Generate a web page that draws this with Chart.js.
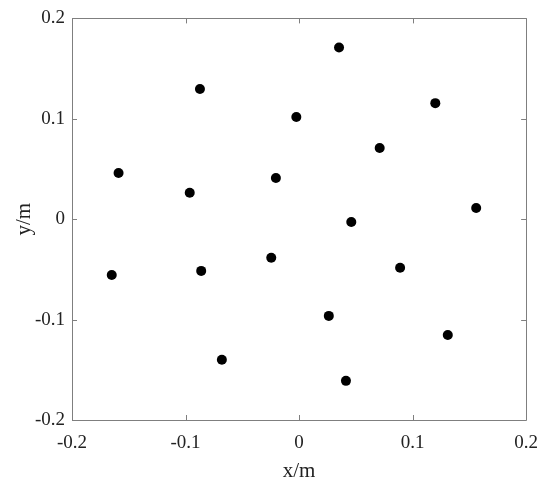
<!DOCTYPE html>
<html>
<head>
<meta charset="utf-8">
<script src="https://cdn.jsdelivr.net/npm/chart.js@4"></script>
<style>
html,body{margin:0;padding:0;background:#fff;}
#wrap{width:550px;height:492px;position:relative;}
</style>
</head>
<body>
<div id="wrap"><canvas id="c" width="550" height="492"></canvas></div>
<script>
const xValues = [0.0352, -0.0873, 0.120, -0.0024, 0.071, -0.159, -0.0204, -0.0963, 0.156, 0.046, -0.165, -0.0862, -0.0245, 0.089, 0.0262, 0.131, -0.068, 0.0413];
const yValues = [0.1711, 0.1297, 0.1156, 0.1018, 0.0709, 0.046, 0.041, 0.0263, 0.0111, -0.0027, -0.0555, -0.0515, -0.0384, -0.0483, -0.0963, -0.1153, -0.140, -0.161];
const xTicks = [-0.2, -0.1, 0, 0.1, 0.2];
const yTicks = [-0.2, -0.1, 0, 0.1, 0.2];
const xTitle = 'x/m';
const yTitle = 'y/m';

const points = xValues.map((x, i) => ({x: x, y: yValues[i]}));
const FONT = 'Liberation Serif';
const AXIS = '#7f7f7f';
const TEXT = '#222222';

const framePlugin = {
  id: 'frame',
  afterDatasetsDraw(chart) {
    const {ctx, chartArea: a, scales} = chart;
    ctx.save();
    ctx.strokeStyle = AXIS;
    ctx.lineWidth = 1;
    ctx.beginPath();
    ctx.rect(Math.round(a.left) + 0.5, Math.round(a.top) + 0.5, Math.round(a.right - a.left), Math.round(a.bottom - a.top));
    ctx.stroke();
    const L = 5;
    ctx.beginPath();
    xTicks.forEach(v => {
      const px = Math.round(scales.x.getPixelForValue(v)) + 0.5;
      ctx.moveTo(px, a.bottom); ctx.lineTo(px, a.bottom - L);
      ctx.moveTo(px, a.top); ctx.lineTo(px, a.top + L);
    });
    yTicks.forEach(v => {
      const py = Math.round(scales.y.getPixelForValue(v)) + 0.5;
      ctx.moveTo(a.left, py); ctx.lineTo(a.left + L, py);
      ctx.moveTo(a.right, py); ctx.lineTo(a.right - L, py);
    });
    ctx.stroke();
    ctx.restore();
  }
};

new Chart(document.getElementById('c'), {
  type: 'scatter',
  data: {
    datasets: [{
      data: points,
      backgroundColor: '#000',
      borderColor: '#000',
      pointRadius: 5,
      pointBorderWidth: 0,
      pointHoverRadius: 5
    }]
  },
  plugins: [framePlugin],
  options: {
    responsive: false,
    animation: false,
    events: [],
    layout: {padding: {left: 0, right: 22, top: 16, bottom: 0}},
    plugins: {legend: {display: false}, tooltip: {enabled: false}},
    scales: {
      x: {
        type: 'linear', min: -0.2, max: 0.2,
        afterBuildTicks: s => { s.ticks = xTicks.map(v => ({value: v})); },
        afterFit: s => { s.height = 72; },
        grid: {display: false, drawTicks: false},
        border: {display: false},
        ticks: {
          padding: 12, color: TEXT, font: {family: FONT, size: 19},
          maxRotation: 0, autoSkip: false,
          callback: v => String(v)
        },
        title: {display: true, text: xTitle, color: TEXT, font: {family: FONT, size: 21}, padding: {top: 4, bottom: 8}}
      },
      y: {
        type: 'linear', min: -0.2, max: 0.2,
        afterBuildTicks: s => { s.ticks = yTicks.map(v => ({value: v})); },
        afterFit: s => { s.width = 72; },
        grid: {display: false, drawTicks: false},
        border: {display: false},
        ticks: {
          padding: 7, color: TEXT, font: {family: FONT, size: 19},
          autoSkip: false,
          callback: v => String(v)
        },
        title: {display: true, text: yTitle, color: TEXT, font: {family: FONT, size: 21}, padding: {top: 12, bottom: 0}}
      }
    }
  }
});
</script>
</body>
</html>
